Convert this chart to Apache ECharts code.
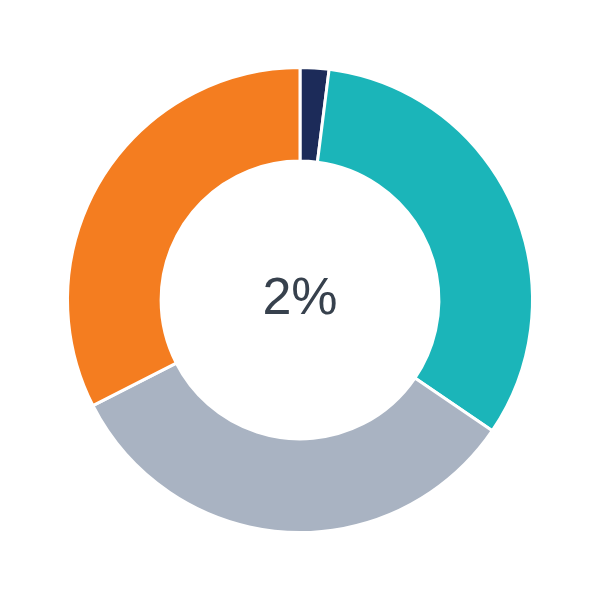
<!DOCTYPE html>
<html>
<head>
<meta charset="utf-8">
<script src="https://cdn.jsdelivr.net/npm/echarts@6/dist/echarts.min.js"></script>
<style>
  html, body { margin: 0; padding: 0; background: #ffffff; }
  #chart { width: 600px; height: 600px; }
</style>
</head>
<body>
<div id="chart"></div>
<script>
// slice data, clockwise from 12 o'clock
var names = ['A', 'B', 'C', 'D']
var values = [2, 32.5, 33, 32.5]
var colors = ['#1c2b59', '#1bb5b9', '#a9b3c2', '#f47d20']
var centerLabel = '2%'

var chart = echarts.init(document.getElementById('chart'))
chart.setOption({
  backgroundColor: '#ffffff',
  animation: false,
  title: {
    text: centerLabel,
    left: 'center',
    top: 'middle',
    textStyle: {
      fontFamily: 'Liberation Sans',
      fontSize: 52,
      fontWeight: 'normal',
      color: '#37414d'
    }
  },
  series: [{
    type: 'pie',
    center: ['50%', '50%'],
    radius: ['46.3%', '77.5%'],
    startAngle: 90,
    clockwise: true,
    label: { show: false },
    labelLine: { show: false },
    itemStyle: {
      borderColor: '#ffffff',
      borderWidth: 3
    },
    data: names.map(function (n, i) {
      return { name: n, value: values[i], itemStyle: { color: colors[i] } }
    })
  }]
})
</script>
</body>
</html>
